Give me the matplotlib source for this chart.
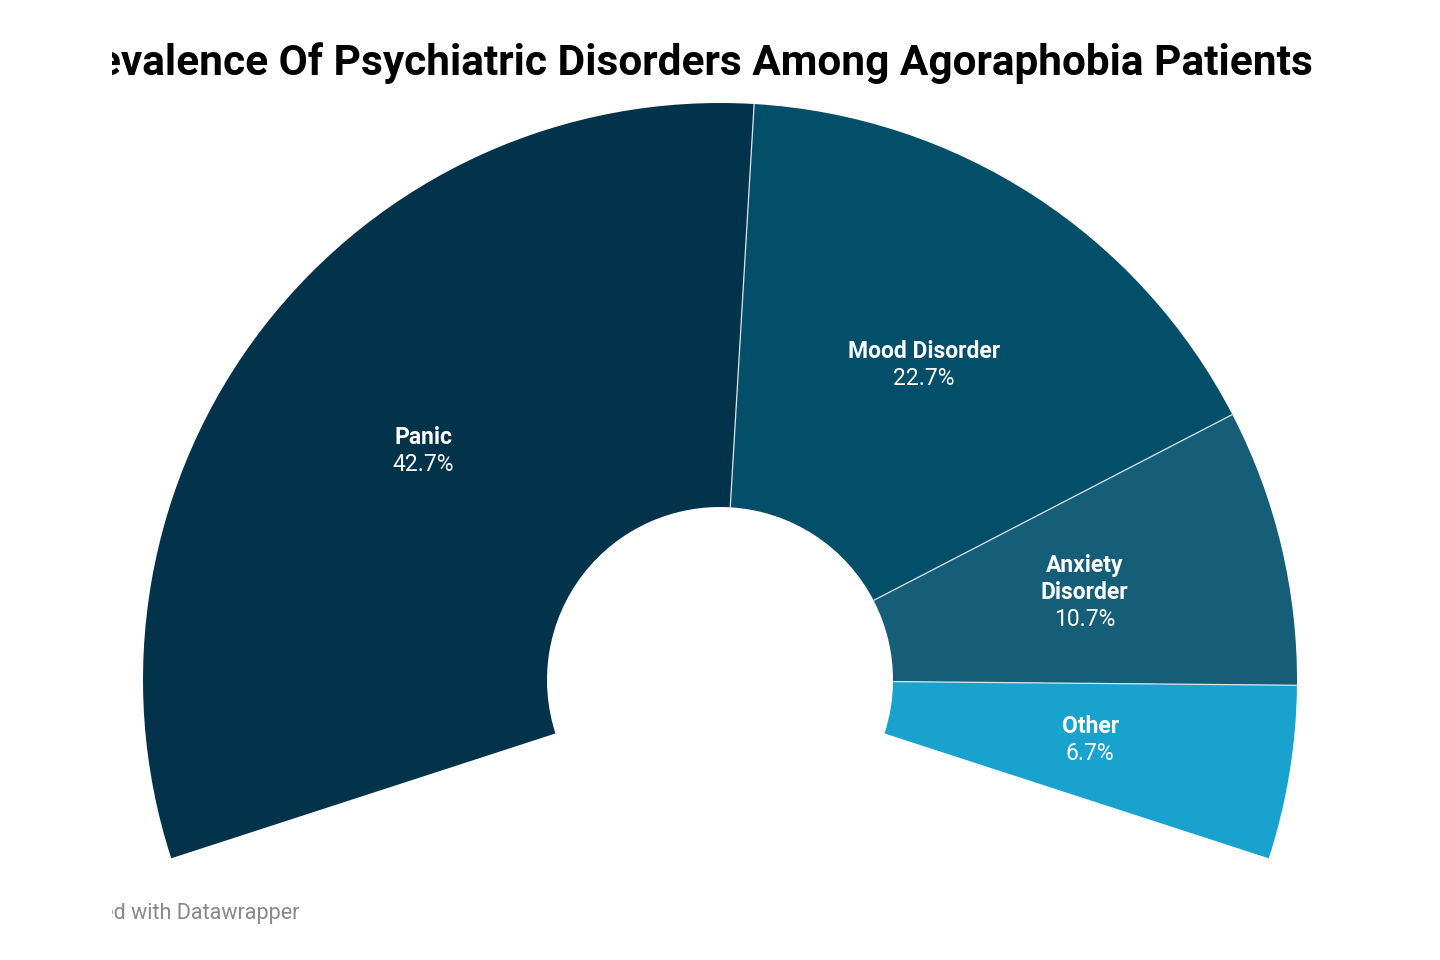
import matplotlib.pyplot as plt
import matplotlib.patches as mpatches
import numpy as np

plt.rcParams['font.family'] = ['Roboto', 'DejaVu Sans']

labels = ['Panic', 'Mood Disorder', 'Anxiety\nDisorder', 'Other']
values = [42.7, 22.7, 10.7, 6.7]
colors = ['#02334b', '#034e68', '#165e78', '#1aa2cf']

# the ring covers 216 degrees, the rest is an invisible slice
span = 216
hidden = sum(values) * (360 - span) / span

fig = plt.figure(figsize=(14.4, 9.6), dpi=100)
ax = fig.add_axes([0, 0, 1, 1])

cx, cy = 720, 960 - 680
r_out, r_in = 577, 173
wedges, _ = ax.pie(values + [hidden], colors=colors + ['none'], startangle=198,
                   counterclock=False, radius=r_out, center=(cx, cy),
                   wedgeprops=dict(width=r_out - r_in, edgecolor='none', linewidth=0))

# thin separators between slices
for w in wedges[:-2]:
    a = np.deg2rad(w.theta1)
    ax.plot([cx + r_in * np.cos(a), cx + r_out * np.cos(a)],
            [cy + r_in * np.sin(a), cy + r_out * np.sin(a)],
            color='#d6e6ee', lw=0.9, solid_capstyle='butt')

r_mid = (r_out + r_in) / 2
step = 27
for w, lab, v in zip(wedges[:-1], labels, values):
    ang = np.deg2rad((w.theta1 + w.theta2) / 2)
    x = cx + r_mid * np.cos(ang)
    y = cy + r_mid * np.sin(ang)
    lines = lab.split('\n') + [f'{v}%']
    top = y + step * (len(lines) - 1) / 2
    for i, t in enumerate(lines):
        bold = i < len(lines) - 1
        ax.text(x, top - i * step, t, ha='center', va='center', color='white',
                fontsize=16.5, fontweight='bold' if bold else 'normal')

ax.set_xlim(0, 1440)
ax.set_ylim(0, 960)
ax.axis('off')

fig.text(1313 / 1440, 1 - 75 / 960, 'Prevalence Of Psychiatric Disorders Among Agoraphobia Patients',
         ha='right', va='baseline', fontsize=30.5, fontweight='bold', color='#000000')
fig.text(299 / 1440, 1 - 919 / 960, 'Created with Datawrapper', ha='right', va='baseline',
         fontsize=15.5, color='#888888')

# cropped left edge
fig.patches.append(mpatches.Rectangle((0, 0), 112 / 1440, 1, transform=fig.transFigure,
                                      facecolor='white', edgecolor='none', zorder=10))

fig.savefig('out.png', dpi=100, facecolor='white')
